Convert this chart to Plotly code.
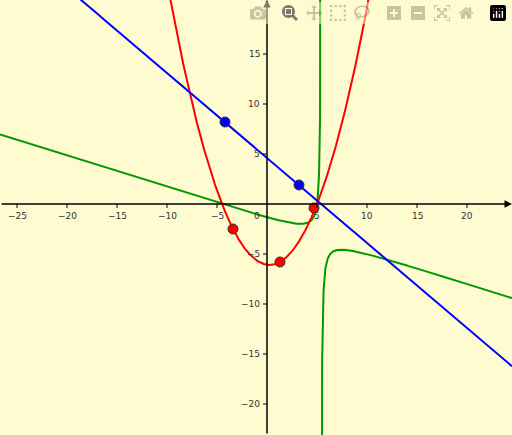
import numpy as np
import plotly.graph_objects as go

# parabola a*(x-r1)*(x-r2)
para_a = 0.27
para_roots = [-4.5, 5.0]
# line m*x + b
line_m = -0.85
line_b = 4.6
blue_pts_x = [-4.2, 3.2]
blue_pts_y = [8.2, 1.9]
red_pts_x = [-3.4, 1.3, 4.7]
red_pts_y = [-2.5, -5.8, -0.4]
x_ticks = [-25, -20, -15, -10, -5, 5, 10, 15, 20]
y_ticks = [-20, -15, -10, -5, 5, 10, 15]
xr = [-26.7, 24.5]
yr = [-23.1, 20.4]

def red(x):
    return para_a * (x - para_roots[0]) * (x - para_roots[1])

def blue(x):
    return line_m * x + line_b

x = np.linspace(xr[0], xr[1], 4000)
asym = -line_b / line_m
xs = np.concatenate([np.linspace(xr[0], asym - 1e-4, 4000), [np.nan], np.linspace(asym + 1e-4, xr[1], 4000)])
gy = red(xs) / blue(xs)
gy = np.where(np.abs(gy) > 200, np.sign(gy) * 200, gy)

fig = go.Figure()
fig.add_trace(go.Scatter(x=xs, y=gy, mode="lines", line=dict(color="#009900", width=2), connectgaps=False))
fig.add_trace(go.Scatter(x=x, y=red(x), mode="lines", line=dict(color="#FF0000", width=2)))
fig.add_trace(go.Scatter(x=x, y=blue(x), mode="lines", line=dict(color="#0000FF", width=2)))
fig.add_trace(go.Scatter(x=red_pts_x, y=red_pts_y, mode="markers",
                         marker=dict(color="#FF0000", size=10, line=dict(color="#333333", width=1))))
fig.add_trace(go.Scatter(x=blue_pts_x, y=blue_pts_y, mode="markers",
                         marker=dict(color="#0000FF", size=10, line=dict(color="#333333", width=1))))

shapes = []
ann = []
for t in x_ticks:
    shapes.append(dict(type="line", x0=t, x1=t, y0=0, y1=-0.4, line=dict(color="black", width=1)))
    ann.append(dict(x=t, y=-0.5, text=str(t).replace("-", "−"), showarrow=False, yanchor="top",
                    font=dict(family="DejaVu Sans", size=9, color="#333333")))
for t in y_ticks:
    shapes.append(dict(type="line", x0=0, x1=-0.4, y0=t, y1=t, line=dict(color="black", width=1)))
    ann.append(dict(x=-0.5, y=t, text=str(t).replace("-", "−"), showarrow=False, xanchor="right",
                    font=dict(family="DejaVu Sans", size=9, color="#333333")))
ann.append(dict(x=-0.5, y=-0.5, text="0", showarrow=False, xanchor="right", yanchor="top",
                font=dict(family="DejaVu Sans", size=9, color="#333333")))
ann.append(dict(x=xr[1], y=0, ax=xr[0], ay=0, axref="x", ayref="y", showarrow=True,
                arrowhead=2, arrowsize=1, arrowwidth=1.5, arrowcolor="black", text=""))
ann.append(dict(x=0, y=yr[1], ax=0, ay=yr[0], axref="x", ayref="y", showarrow=True,
                arrowhead=2, arrowsize=1, arrowwidth=1.5, arrowcolor="black", text=""))

fig.update_layout(width=512, height=435, margin=dict(l=0, r=0, t=0, b=0),
                  paper_bgcolor="#FFFBD0", plot_bgcolor="#FFFBD0", showlegend=False,
                  shapes=shapes, annotations=ann,
                  xaxis=dict(range=xr, visible=False, showgrid=False, zeroline=False),
                  yaxis=dict(range=yr, visible=False, showgrid=False, zeroline=False))
fig.write_html("out.html")
with open("out.html", encoding="utf-8") as f:
    html = f.read()
html = html.replace("<body>", '<body style="margin:0;background:#FFFBD0">', 1)
with open("out.html", "w", encoding="utf-8") as f:
    f.write(html)
